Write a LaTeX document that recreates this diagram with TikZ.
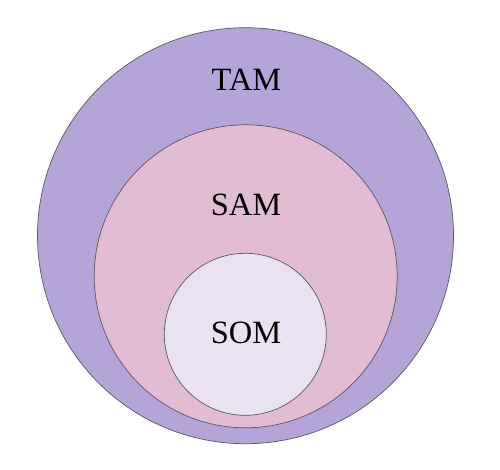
\documentclass[tikz,border=0pt]{standalone}
\usepackage{fontspec}
\setmainfont{Liberation Serif}
\usepackage{tikz}
\usetikzlibrary{positioning}
\definecolor{tamfill}{RGB}{180,164,216}
\definecolor{samfill}{RGB}{226,188,210}
\definecolor{somfill}{RGB}{233,226,243}
\begin{document}
\begin{tikzpicture}[x=1pt,y=-1pt,
                    market/.style={circle,draw=black!65,line width=0.7pt,inner sep=0pt},
                    label/.style={font=\fontsize{32.5}{38}\selectfont,text=black}]
 \useasboundingbox (0,0) rectangle (500,469);
  \node[market, fill=tamfill, minimum size=416pt] (TAM) at (245.5,235.7) {};
  \node[market, fill=samfill, minimum size=303pt] (SAM) at (245.7,276.3) {};
  \node[market, fill=somfill, minimum size=162pt] (SOM) at (245.3,334.3) {};
  \node[label] (tamtext) at (246.5,80) {TAM};
  \node[label] (samtext) at (246,205) {SAM};
  \node[label] (somtext) at (246,333) {SOM};
\end{tikzpicture}
\end{document}
